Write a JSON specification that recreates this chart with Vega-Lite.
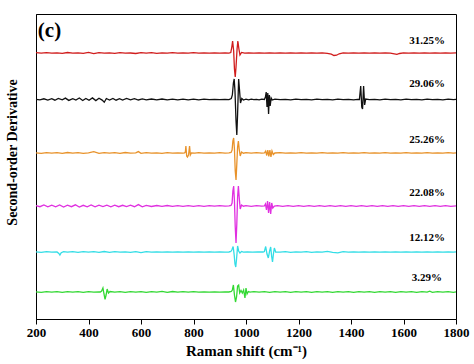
{
"$schema":"https://vega.github.io/schema/vega-lite/v6.json",
"width":420,"height":305,
"autosize":{"type":"none"},
"padding":{"left":36,"top":14,"right":18,"bottom":45},
"config":{"view":{"stroke":"black","strokeWidth":1},"font":"Liberation Serif"},
"layer":[
{"data":{"values":[
{"s":"31.25%","x":200,"y":266.3},{"s":"31.25%","x":220,"y":265.8},{"s":"31.25%","x":240,"y":266.4},{"s":"31.25%","x":260,"y":265.9},{"s":"31.25%","x":280,"y":266.2},{"s":"31.25%","x":300,"y":265.7},{"s":"31.25%","x":320,"y":266.5},{"s":"31.25%","x":340,"y":265.9},{"s":"31.25%","x":360,"y":266.1},{"s":"31.25%","x":380,"y":265.6},{"s":"31.25%","x":400,"y":266.6},{"s":"31.25%","x":420,"y":265.4},{"s":"31.25%","x":440,"y":266.3},{"s":"31.25%","x":460,"y":265.8},{"s":"31.25%","x":480,"y":266.2},{"s":"31.25%","x":500,"y":265.7},{"s":"31.25%","x":520,"y":266.4},{"s":"31.25%","x":540,"y":265.8},{"s":"31.25%","x":560,"y":266.0},{"s":"31.25%","x":580,"y":265.5},{"s":"31.25%","x":600,"y":266.4},{"s":"31.25%","x":620,"y":265.9},{"s":"31.25%","x":640,"y":266.3},{"s":"31.25%","x":660,"y":265.7},{"s":"31.25%","x":680,"y":266.1},{"s":"31.25%","x":700,"y":265.8},{"s":"31.25%","x":720,"y":266.4},{"s":"31.25%","x":740,"y":265.9},{"s":"31.25%","x":760,"y":266.2},{"s":"31.25%","x":780,"y":265.8},{"s":"31.25%","x":800,"y":266.3},{"s":"31.25%","x":820,"y":265.9},{"s":"31.25%","x":840,"y":266.1},{"s":"31.25%","x":860,"y":265.8},{"s":"31.25%","x":880,"y":266.2},{"s":"31.25%","x":900,"y":265.9},{"s":"31.25%","x":920,"y":266.1},{"s":"31.25%","x":935,"y":265.8},{"s":"31.25%","x":942,"y":266.5},{"s":"31.25%","x":946,"y":272},{"s":"31.25%","x":949,"y":278},{"s":"31.25%","x":953,"y":268},{"s":"31.25%","x":956,"y":250},{"s":"31.25%","x":959,"y":242},{"s":"31.25%","x":962,"y":252},{"s":"31.25%","x":966,"y":270},{"s":"31.25%","x":969,"y":278},{"s":"31.25%","x":973,"y":270},{"s":"31.25%","x":977,"y":264},{"s":"31.25%","x":983,"y":266.6},{"s":"31.25%","x":995,"y":265.8},{"s":"31.25%","x":1010,"y":266.2},{"s":"31.25%","x":1030,"y":265.9},{"s":"31.25%","x":1050,"y":266.1},{"s":"31.25%","x":1070,"y":265.8},{"s":"31.25%","x":1090,"y":266.2},{"s":"31.25%","x":1110,"y":265.9},{"s":"31.25%","x":1130,"y":266.1},{"s":"31.25%","x":1150,"y":265.8},{"s":"31.25%","x":1170,"y":266.2},{"s":"31.25%","x":1190,"y":265.9},{"s":"31.25%","x":1210,"y":266.1},{"s":"31.25%","x":1230,"y":265.8},{"s":"31.25%","x":1250,"y":266.2},{"s":"31.25%","x":1270,"y":265.9},{"s":"31.25%","x":1290,"y":266.1},{"s":"31.25%","x":1310,"y":265.6},{"s":"31.25%","x":1325,"y":264.8},{"s":"31.25%","x":1335,"y":263.5},{"s":"31.25%","x":1345,"y":263.8},{"s":"31.25%","x":1355,"y":265.2},{"s":"31.25%","x":1370,"y":266.2},{"s":"31.25%","x":1390,"y":265.9},{"s":"31.25%","x":1410,"y":266.1},{"s":"31.25%","x":1430,"y":265.8},{"s":"31.25%","x":1450,"y":266.2},{"s":"31.25%","x":1470,"y":265.9},{"s":"31.25%","x":1490,"y":266.1},{"s":"31.25%","x":1510,"y":265.8},{"s":"31.25%","x":1530,"y":266.2},{"s":"31.25%","x":1550,"y":265.9},{"s":"31.25%","x":1565,"y":265.2},{"s":"31.25%","x":1575,"y":264.6},{"s":"31.25%","x":1585,"y":265.5},{"s":"31.25%","x":1600,"y":266.2},{"s":"31.25%","x":1620,"y":265.9},{"s":"31.25%","x":1640,"y":266.1},{"s":"31.25%","x":1660,"y":265.8},{"s":"31.25%","x":1680,"y":266.2},{"s":"31.25%","x":1700,"y":265.9},{"s":"31.25%","x":1720,"y":266.1},{"s":"31.25%","x":1740,"y":265.8},{"s":"31.25%","x":1760,"y":266.2},{"s":"31.25%","x":1780,"y":265.9},{"s":"31.25%","x":1800,"y":266.1},

{"s":"29.06%","x":200,"y":219.7},{"s":"29.06%","x":215,"y":219.1},{"s":"29.06%","x":230,"y":220.2},{"s":"29.06%","x":245,"y":219.0},{"s":"29.06%","x":260,"y":220.4},{"s":"29.06%","x":272,"y":218.8},{"s":"29.06%","x":285,"y":220.6},{"s":"29.06%","x":300,"y":219.2},{"s":"29.06%","x":312,"y":220.9},{"s":"29.06%","x":325,"y":218.6},{"s":"29.06%","x":340,"y":220.3},{"s":"29.06%","x":352,"y":218.9},{"s":"29.06%","x":365,"y":221.0},{"s":"29.06%","x":378,"y":218.5},{"s":"29.06%","x":390,"y":220.6},{"s":"29.06%","x":402,"y":218.7},{"s":"29.06%","x":415,"y":221.1},{"s":"29.06%","x":428,"y":218.4},{"s":"29.06%","x":440,"y":220.7},{"s":"29.06%","x":452,"y":218.9},{"s":"29.06%","x":460,"y":216.8},{"s":"29.06%","x":468,"y":220.5},{"s":"29.06%","x":480,"y":219.0},{"s":"29.06%","x":493,"y":220.6},{"s":"29.06%","x":505,"y":218.8},{"s":"29.06%","x":518,"y":220.4},{"s":"29.06%","x":530,"y":219.0},{"s":"29.06%","x":545,"y":220.5},{"s":"29.06%","x":560,"y":219.1},{"s":"29.06%","x":575,"y":220.3},{"s":"29.06%","x":590,"y":219.0},{"s":"29.06%","x":605,"y":220.1},{"s":"29.06%","x":620,"y":219.2},{"s":"29.06%","x":640,"y":220.0},{"s":"29.06%","x":660,"y":219.2},{"s":"29.06%","x":680,"y":220.0},{"s":"29.06%","x":700,"y":219.2},{"s":"29.06%","x":720,"y":219.9},{"s":"29.06%","x":740,"y":219.2},{"s":"29.06%","x":760,"y":219.9},{"s":"29.06%","x":780,"y":219.2},{"s":"29.06%","x":800,"y":219.8},{"s":"29.06%","x":820,"y":219.2},{"s":"29.06%","x":840,"y":219.8},{"s":"29.06%","x":860,"y":219.3},{"s":"29.06%","x":880,"y":219.7},{"s":"29.06%","x":900,"y":219.3},{"s":"29.06%","x":920,"y":219.7},{"s":"29.06%","x":935,"y":219.4},{"s":"29.06%","x":944,"y":220.5},{"s":"29.06%","x":948,"y":224},{"s":"29.06%","x":952,"y":236},{"s":"29.06%","x":955,"y":240},{"s":"29.06%","x":958,"y":228},{"s":"29.06%","x":962,"y":198},{"s":"29.06%","x":965,"y":184},{"s":"29.06%","x":968,"y":205},{"s":"29.06%","x":972,"y":240},{"s":"29.06%","x":975,"y":230},{"s":"29.06%","x":979,"y":216},{"s":"29.06%","x":984,"y":220.5},{"s":"29.06%","x":990,"y":219.0},{"s":"29.06%","x":1000,"y":219.8},{"s":"29.06%","x":1010,"y":219.2},{"s":"29.06%","x":1020,"y":219.8},{"s":"29.06%","x":1030,"y":219.3},{"s":"29.06%","x":1040,"y":219.7},{"s":"29.06%","x":1050,"y":219.2},{"s":"29.06%","x":1060,"y":219.8},{"s":"29.06%","x":1070,"y":219.5},{"s":"29.06%","x":1074,"y":222},{"s":"29.06%","x":1077,"y":227},{"s":"29.06%","x":1080,"y":212},{"s":"29.06%","x":1083,"y":226},{"s":"29.06%","x":1086,"y":205},{"s":"29.06%","x":1089,"y":224},{"s":"29.06%","x":1092,"y":213},{"s":"29.06%","x":1096,"y":221},{"s":"29.06%","x":1100,"y":219},{"s":"29.06%","x":1110,"y":219.8},{"s":"29.06%","x":1130,"y":219.3},{"s":"29.06%","x":1150,"y":219.7},{"s":"29.06%","x":1170,"y":219.2},{"s":"29.06%","x":1190,"y":219.8},{"s":"29.06%","x":1210,"y":219.3},{"s":"29.06%","x":1230,"y":219.7},{"s":"29.06%","x":1250,"y":219.2},{"s":"29.06%","x":1270,"y":219.8},{"s":"29.06%","x":1290,"y":219.3},{"s":"29.06%","x":1310,"y":219.7},{"s":"29.06%","x":1330,"y":219.2},{"s":"29.06%","x":1350,"y":219.8},{"s":"29.06%","x":1370,"y":219.3},{"s":"29.06%","x":1390,"y":219.7},{"s":"29.06%","x":1410,"y":219.2},{"s":"29.06%","x":1425,"y":219.7},{"s":"29.06%","x":1432,"y":219.5},{"s":"29.06%","x":1437,"y":233},{"s":"29.06%","x":1441,"y":212},{"s":"29.06%","x":1444,"y":210},{"s":"29.06%","x":1448,"y":233},{"s":"29.06%","x":1452,"y":214},{"s":"29.06%","x":1456,"y":220},{"s":"29.06%","x":1470,"y":219.3},{"s":"29.06%","x":1490,"y":219.7},{"s":"29.06%","x":1510,"y":219.2},{"s":"29.06%","x":1530,"y":219.8},{"s":"29.06%","x":1550,"y":219.3},{"s":"29.06%","x":1570,"y":219.7},{"s":"29.06%","x":1590,"y":219.2},{"s":"29.06%","x":1610,"y":219.8},{"s":"29.06%","x":1630,"y":219.3},{"s":"29.06%","x":1650,"y":219.7},{"s":"29.06%","x":1670,"y":219.2},{"s":"29.06%","x":1690,"y":219.8},{"s":"29.06%","x":1710,"y":219.3},{"s":"29.06%","x":1730,"y":219.7},{"s":"29.06%","x":1750,"y":219.2},{"s":"29.06%","x":1770,"y":219.8},{"s":"29.06%","x":1790,"y":219.3},{"s":"29.06%","x":1800,"y":219.6},

{"s":"25.26%","x":200,"y":166.2},{"s":"25.26%","x":220,"y":165.7},{"s":"25.26%","x":240,"y":166.4},{"s":"25.26%","x":260,"y":165.8},{"s":"25.26%","x":280,"y":166.3},{"s":"25.26%","x":300,"y":165.6},{"s":"25.26%","x":320,"y":166.5},{"s":"25.26%","x":340,"y":165.9},{"s":"25.26%","x":360,"y":166.3},{"s":"25.26%","x":380,"y":165.7},{"s":"25.26%","x":400,"y":166.2},{"s":"25.26%","x":420,"y":167.3},{"s":"25.26%","x":440,"y":165.6},{"s":"25.26%","x":460,"y":166.3},{"s":"25.26%","x":480,"y":165.8},{"s":"25.26%","x":500,"y":166.4},{"s":"25.26%","x":520,"y":165.6},{"s":"25.26%","x":540,"y":166.5},{"s":"25.26%","x":560,"y":165.8},{"s":"25.26%","x":580,"y":166.2},{"s":"25.26%","x":590,"y":167.4},{"s":"25.26%","x":600,"y":165.7},{"s":"25.26%","x":620,"y":166.3},{"s":"25.26%","x":640,"y":165.8},{"s":"25.26%","x":660,"y":166.2},{"s":"25.26%","x":680,"y":165.7},{"s":"25.26%","x":700,"y":166.3},{"s":"25.26%","x":720,"y":165.8},{"s":"25.26%","x":740,"y":166.2},{"s":"25.26%","x":760,"y":165.9},{"s":"25.26%","x":766,"y":166.2},{"s":"25.26%","x":769,"y":167},{"s":"25.26%","x":771,"y":173},{"s":"25.26%","x":774,"y":163},{"s":"25.26%","x":777,"y":162},{"s":"25.26%","x":781,"y":164},{"s":"25.26%","x":785,"y":173},{"s":"25.26%","x":788,"y":164},{"s":"25.26%","x":792,"y":166},{"s":"25.26%","x":805,"y":165.8},{"s":"25.26%","x":820,"y":166.3},{"s":"25.26%","x":840,"y":165.8},{"s":"25.26%","x":860,"y":166.2},{"s":"25.26%","x":880,"y":165.8},{"s":"25.26%","x":900,"y":166.3},{"s":"25.26%","x":920,"y":165.8},{"s":"25.26%","x":935,"y":166.2},{"s":"25.26%","x":943,"y":166.5},{"s":"25.26%","x":947,"y":169},{"s":"25.26%","x":950,"y":178},{"s":"25.26%","x":953,"y":181},{"s":"25.26%","x":956,"y":170},{"s":"25.26%","x":959,"y":148},{"s":"25.26%","x":962,"y":139},{"s":"25.26%","x":965,"y":155},{"s":"25.26%","x":968,"y":172},{"s":"25.26%","x":971,"y":178},{"s":"25.26%","x":974,"y":170},{"s":"25.26%","x":978,"y":163},{"s":"25.26%","x":983,"y":167},{"s":"25.26%","x":990,"y":165.8},{"s":"25.26%","x":1000,"y":166.4},{"s":"25.26%","x":1020,"y":165.8},{"s":"25.26%","x":1040,"y":166.3},{"s":"25.26%","x":1060,"y":165.8},{"s":"25.26%","x":1070,"y":166},{"s":"25.26%","x":1075,"y":168},{"s":"25.26%","x":1079,"y":163.5},{"s":"25.26%","x":1083,"y":169},{"s":"25.26%","x":1087,"y":162.5},{"s":"25.26%","x":1091,"y":169},{"s":"25.26%","x":1095,"y":162},{"s":"25.26%","x":1099,"y":168},{"s":"25.26%","x":1104,"y":164.5},{"s":"25.26%","x":1110,"y":166},{"s":"25.26%","x":1130,"y":166.3},{"s":"25.26%","x":1150,"y":165.8},{"s":"25.26%","x":1170,"y":166.2},{"s":"25.26%","x":1190,"y":165.8},{"s":"25.26%","x":1210,"y":166.3},{"s":"25.26%","x":1230,"y":165.8},{"s":"25.26%","x":1250,"y":166.2},{"s":"25.26%","x":1270,"y":165.8},{"s":"25.26%","x":1290,"y":166.3},{"s":"25.26%","x":1310,"y":165.8},{"s":"25.26%","x":1330,"y":166.2},{"s":"25.26%","x":1350,"y":165.8},{"s":"25.26%","x":1370,"y":166.3},{"s":"25.26%","x":1390,"y":165.8},{"s":"25.26%","x":1410,"y":166.2},{"s":"25.26%","x":1430,"y":165.8},{"s":"25.26%","x":1450,"y":166.3},{"s":"25.26%","x":1470,"y":165.8},{"s":"25.26%","x":1490,"y":166.2},{"s":"25.26%","x":1510,"y":165.8},{"s":"25.26%","x":1530,"y":166.3},{"s":"25.26%","x":1550,"y":165.8},{"s":"25.26%","x":1570,"y":166.2},{"s":"25.26%","x":1590,"y":165.8},{"s":"25.26%","x":1610,"y":166.3},{"s":"25.26%","x":1630,"y":165.8},{"s":"25.26%","x":1650,"y":166.2},{"s":"25.26%","x":1670,"y":165.8},{"s":"25.26%","x":1690,"y":166.3},{"s":"25.26%","x":1710,"y":165.8},{"s":"25.26%","x":1730,"y":166.2},{"s":"25.26%","x":1750,"y":165.8},{"s":"25.26%","x":1770,"y":166.3},{"s":"25.26%","x":1790,"y":165.8},{"s":"25.26%","x":1800,"y":166.1},

{"s":"22.08%","x":200,"y":113.4},{"s":"22.08%","x":215,"y":112.3},{"s":"22.08%","x":230,"y":114.0},{"s":"22.08%","x":245,"y":112.1},{"s":"22.08%","x":260,"y":113.9},{"s":"22.08%","x":275,"y":112.2},{"s":"22.08%","x":290,"y":114.1},{"s":"22.08%","x":305,"y":112.0},{"s":"22.08%","x":320,"y":113.8},{"s":"22.08%","x":335,"y":112.3},{"s":"22.08%","x":350,"y":114.2},{"s":"22.08%","x":365,"y":111.9},{"s":"22.08%","x":380,"y":113.7},{"s":"22.08%","x":395,"y":112.2},{"s":"22.08%","x":410,"y":114.0},{"s":"22.08%","x":425,"y":112.1},{"s":"22.08%","x":440,"y":113.9},{"s":"22.08%","x":455,"y":112.4},{"s":"22.08%","x":470,"y":113.8},{"s":"22.08%","x":485,"y":112.2},{"s":"22.08%","x":500,"y":113.9},{"s":"22.08%","x":515,"y":112.3},{"s":"22.08%","x":530,"y":113.7},{"s":"22.08%","x":545,"y":112.4},{"s":"22.08%","x":560,"y":113.8},{"s":"22.08%","x":575,"y":112.3},{"s":"22.08%","x":590,"y":114.4},{"s":"22.08%","x":605,"y":112.1},{"s":"22.08%","x":620,"y":113.6},{"s":"22.08%","x":640,"y":112.5},{"s":"22.08%","x":660,"y":113.5},{"s":"22.08%","x":680,"y":112.6},{"s":"22.08%","x":700,"y":113.5},{"s":"22.08%","x":720,"y":112.6},{"s":"22.08%","x":740,"y":113.4},{"s":"22.08%","x":760,"y":112.7},{"s":"22.08%","x":780,"y":113.4},{"s":"22.08%","x":800,"y":112.7},{"s":"22.08%","x":820,"y":113.4},{"s":"22.08%","x":840,"y":112.7},{"s":"22.08%","x":860,"y":113.3},{"s":"22.08%","x":880,"y":112.8},{"s":"22.08%","x":900,"y":113.3},{"s":"22.08%","x":920,"y":112.8},{"s":"22.08%","x":935,"y":113.2},{"s":"22.08%","x":943,"y":113.5},{"s":"22.08%","x":947,"y":116},{"s":"22.08%","x":950,"y":128},{"s":"22.08%","x":953,"y":133},{"s":"22.08%","x":956,"y":118},{"s":"22.08%","x":959,"y":92},{"s":"22.08%","x":962,"y":76},{"s":"22.08%","x":965,"y":95},{"s":"22.08%","x":968,"y":122},{"s":"22.08%","x":971,"y":133},{"s":"22.08%","x":974,"y":122},{"s":"22.08%","x":978,"y":110},{"s":"22.08%","x":983,"y":114},{"s":"22.08%","x":990,"y":112.8},{"s":"22.08%","x":1000,"y":113.4},{"s":"22.08%","x":1020,"y":112.7},{"s":"22.08%","x":1040,"y":113.3},{"s":"22.08%","x":1060,"y":112.8},{"s":"22.08%","x":1070,"y":113},{"s":"22.08%","x":1074,"y":115},{"s":"22.08%","x":1078,"y":109},{"s":"22.08%","x":1082,"y":118},{"s":"22.08%","x":1086,"y":106},{"s":"22.08%","x":1090,"y":117},{"s":"22.08%","x":1094,"y":105},{"s":"22.08%","x":1098,"y":116},{"s":"22.08%","x":1102,"y":111},{"s":"22.08%","x":1108,"y":113},{"s":"22.08%","x":1120,"y":113.4},{"s":"22.08%","x":1140,"y":112.7},{"s":"22.08%","x":1160,"y":113.4},{"s":"22.08%","x":1180,"y":112.7},{"s":"22.08%","x":1200,"y":113.4},{"s":"22.08%","x":1220,"y":112.7},{"s":"22.08%","x":1240,"y":113.4},{"s":"22.08%","x":1260,"y":112.7},{"s":"22.08%","x":1280,"y":113.4},{"s":"22.08%","x":1300,"y":112.7},{"s":"22.08%","x":1320,"y":113.4},{"s":"22.08%","x":1340,"y":112.7},{"s":"22.08%","x":1360,"y":113.4},{"s":"22.08%","x":1380,"y":112.7},{"s":"22.08%","x":1400,"y":113.4},{"s":"22.08%","x":1420,"y":112.7},{"s":"22.08%","x":1440,"y":113.4},{"s":"22.08%","x":1460,"y":112.7},{"s":"22.08%","x":1480,"y":113.4},{"s":"22.08%","x":1500,"y":112.7},{"s":"22.08%","x":1520,"y":113.4},{"s":"22.08%","x":1540,"y":112.7},{"s":"22.08%","x":1560,"y":113.4},{"s":"22.08%","x":1580,"y":112.7},{"s":"22.08%","x":1600,"y":113.4},{"s":"22.08%","x":1620,"y":112.7},{"s":"22.08%","x":1640,"y":113.4},{"s":"22.08%","x":1660,"y":112.7},{"s":"22.08%","x":1680,"y":113.4},{"s":"22.08%","x":1700,"y":112.7},{"s":"22.08%","x":1720,"y":113.4},{"s":"22.08%","x":1740,"y":112.7},{"s":"22.08%","x":1760,"y":113.4},{"s":"22.08%","x":1780,"y":112.7},{"s":"22.08%","x":1800,"y":113.2},

{"s":"12.12%","x":200,"y":67.2},{"s":"12.12%","x":220,"y":66.7},{"s":"12.12%","x":240,"y":67.4},{"s":"12.12%","x":260,"y":66.8},{"s":"12.12%","x":280,"y":67.1},{"s":"12.12%","x":287,"y":65.5},{"s":"12.12%","x":291,"y":64},{"s":"12.12%","x":296,"y":66.3},{"s":"12.12%","x":305,"y":67.4},{"s":"12.12%","x":320,"y":66.8},{"s":"12.12%","x":340,"y":67.3},{"s":"12.12%","x":360,"y":66.7},{"s":"12.12%","x":380,"y":67.4},{"s":"12.12%","x":400,"y":66.8},{"s":"12.12%","x":420,"y":67.3},{"s":"12.12%","x":440,"y":66.6},{"s":"12.12%","x":460,"y":67.5},{"s":"12.12%","x":480,"y":66.7},{"s":"12.12%","x":500,"y":67.3},{"s":"12.12%","x":520,"y":66.8},{"s":"12.12%","x":540,"y":67.2},{"s":"12.12%","x":560,"y":66.7},{"s":"12.12%","x":580,"y":67.3},{"s":"12.12%","x":600,"y":66.3},{"s":"12.12%","x":620,"y":67.3},{"s":"12.12%","x":640,"y":66.8},{"s":"12.12%","x":660,"y":67.2},{"s":"12.12%","x":680,"y":66.8},{"s":"12.12%","x":700,"y":67.2},{"s":"12.12%","x":720,"y":66.8},{"s":"12.12%","x":740,"y":67.2},{"s":"12.12%","x":760,"y":66.8},{"s":"12.12%","x":780,"y":67.2},{"s":"12.12%","x":800,"y":66.8},{"s":"12.12%","x":820,"y":67.2},{"s":"12.12%","x":840,"y":66.8},{"s":"12.12%","x":860,"y":67.2},{"s":"12.12%","x":880,"y":66.8},{"s":"12.12%","x":900,"y":67.2},{"s":"12.12%","x":920,"y":66.8},{"s":"12.12%","x":935,"y":67},{"s":"12.12%","x":942,"y":67.5},{"s":"12.12%","x":946,"y":69},{"s":"12.12%","x":951,"y":72.5},{"s":"12.12%","x":955,"y":64},{"s":"12.12%","x":958,"y":55},{"s":"12.12%","x":961,"y":52},{"s":"12.12%","x":964,"y":60},{"s":"12.12%","x":968,"y":73},{"s":"12.12%","x":972,"y":68},{"s":"12.12%","x":977,"y":66},{"s":"12.12%","x":983,"y":67.5},{"s":"12.12%","x":990,"y":66.8},{"s":"12.12%","x":1005,"y":67.2},{"s":"12.12%","x":1025,"y":66.8},{"s":"12.12%","x":1045,"y":67.2},{"s":"12.12%","x":1065,"y":67},{"s":"12.12%","x":1070,"y":67.5},{"s":"12.12%","x":1075,"y":72.5},{"s":"12.12%","x":1080,"y":65},{"s":"12.12%","x":1085,"y":61},{"s":"12.12%","x":1090,"y":68},{"s":"12.12%","x":1094,"y":72},{"s":"12.12%","x":1098,"y":62},{"s":"12.12%","x":1101,"y":57},{"s":"12.12%","x":1105,"y":66},{"s":"12.12%","x":1108,"y":71},{"s":"12.12%","x":1113,"y":67},{"s":"12.12%","x":1130,"y":66.8},{"s":"12.12%","x":1150,"y":67.3},{"s":"12.12%","x":1170,"y":66.7},{"s":"12.12%","x":1190,"y":67.2},{"s":"12.12%","x":1210,"y":66.8},{"s":"12.12%","x":1230,"y":67.3},{"s":"12.12%","x":1250,"y":66.7},{"s":"12.12%","x":1270,"y":67.2},{"s":"12.12%","x":1290,"y":66.8},{"s":"12.12%","x":1310,"y":67.6},{"s":"12.12%","x":1330,"y":66.7},{"s":"12.12%","x":1350,"y":66.2},{"s":"12.12%","x":1370,"y":67.3},{"s":"12.12%","x":1390,"y":66.8},{"s":"12.12%","x":1410,"y":67.2},{"s":"12.12%","x":1430,"y":66.8},{"s":"12.12%","x":1450,"y":67.2},{"s":"12.12%","x":1470,"y":66.8},{"s":"12.12%","x":1490,"y":67.2},{"s":"12.12%","x":1510,"y":66.8},{"s":"12.12%","x":1530,"y":67.2},{"s":"12.12%","x":1550,"y":66.8},{"s":"12.12%","x":1570,"y":67.2},{"s":"12.12%","x":1590,"y":66.8},{"s":"12.12%","x":1610,"y":67.2},{"s":"12.12%","x":1630,"y":66.8},{"s":"12.12%","x":1650,"y":67.2},{"s":"12.12%","x":1670,"y":66.8},{"s":"12.12%","x":1690,"y":67.2},{"s":"12.12%","x":1710,"y":66.8},{"s":"12.12%","x":1730,"y":67.2},{"s":"12.12%","x":1750,"y":66.8},{"s":"12.12%","x":1770,"y":67.2},{"s":"12.12%","x":1790,"y":66.8},{"s":"12.12%","x":1800,"y":67.1},

{"s":"3.29%","x":200,"y":27.2},{"s":"3.29%","x":220,"y":26.7},{"s":"3.29%","x":240,"y":27.4},{"s":"3.29%","x":260,"y":26.8},{"s":"3.29%","x":280,"y":27.3},{"s":"3.29%","x":300,"y":26.6},{"s":"3.29%","x":320,"y":27.4},{"s":"3.29%","x":340,"y":26.8},{"s":"3.29%","x":360,"y":27.3},{"s":"3.29%","x":380,"y":26.7},{"s":"3.29%","x":400,"y":27.4},{"s":"3.29%","x":420,"y":26.8},{"s":"3.29%","x":440,"y":27.2},{"s":"3.29%","x":445,"y":27},{"s":"3.29%","x":450,"y":28},{"s":"3.29%","x":455,"y":31},{"s":"3.29%","x":459,"y":25},{"s":"3.29%","x":463,"y":19.7},{"s":"3.29%","x":467,"y":24},{"s":"3.29%","x":471,"y":30},{"s":"3.29%","x":476,"y":26},{"s":"3.29%","x":482,"y":27.5},{"s":"3.29%","x":500,"y":26.8},{"s":"3.29%","x":520,"y":27.3},{"s":"3.29%","x":540,"y":26.7},{"s":"3.29%","x":560,"y":27.3},{"s":"3.29%","x":580,"y":26.8},{"s":"3.29%","x":600,"y":27.3},{"s":"3.29%","x":620,"y":26.7},{"s":"3.29%","x":640,"y":27.3},{"s":"3.29%","x":660,"y":26.8},{"s":"3.29%","x":680,"y":27.6},{"s":"3.29%","x":700,"y":26.7},{"s":"3.29%","x":720,"y":27.5},{"s":"3.29%","x":740,"y":26.8},{"s":"3.29%","x":760,"y":27.3},{"s":"3.29%","x":780,"y":26.8},{"s":"3.29%","x":800,"y":27.3},{"s":"3.29%","x":820,"y":26.8},{"s":"3.29%","x":840,"y":27.2},{"s":"3.29%","x":860,"y":26.8},{"s":"3.29%","x":880,"y":27.2},{"s":"3.29%","x":900,"y":26.8},{"s":"3.29%","x":920,"y":27.2},{"s":"3.29%","x":935,"y":27},{"s":"3.29%","x":944,"y":27.5},{"s":"3.29%","x":948,"y":29},{"s":"3.29%","x":952,"y":34},{"s":"3.29%","x":956,"y":24},{"s":"3.29%","x":960,"y":17},{"s":"3.29%","x":964,"y":22},{"s":"3.29%","x":968,"y":33},{"s":"3.29%","x":972,"y":34},{"s":"3.29%","x":976,"y":26},{"s":"3.29%","x":981,"y":28.5},{"s":"3.29%","x":986,"y":26},{"s":"3.29%","x":991,"y":29},{"s":"3.29%","x":996,"y":21},{"s":"3.29%","x":1000,"y":31},{"s":"3.29%","x":1004,"y":25},{"s":"3.29%","x":1009,"y":27.5},{"s":"3.29%","x":1015,"y":26.8},{"s":"3.29%","x":1030,"y":27.3},{"s":"3.29%","x":1050,"y":26.8},{"s":"3.29%","x":1070,"y":27.3},{"s":"3.29%","x":1090,"y":26.7},{"s":"3.29%","x":1110,"y":27.3},{"s":"3.29%","x":1130,"y":26.8},{"s":"3.29%","x":1150,"y":27.3},{"s":"3.29%","x":1170,"y":26.7},{"s":"3.29%","x":1190,"y":27.3},{"s":"3.29%","x":1210,"y":26.8},{"s":"3.29%","x":1230,"y":27.3},{"s":"3.29%","x":1250,"y":26.7},{"s":"3.29%","x":1270,"y":27.3},{"s":"3.29%","x":1290,"y":26.8},{"s":"3.29%","x":1310,"y":27.3},{"s":"3.29%","x":1330,"y":26.7},{"s":"3.29%","x":1350,"y":27.3},{"s":"3.29%","x":1370,"y":26.8},{"s":"3.29%","x":1390,"y":27.3},{"s":"3.29%","x":1410,"y":26.7},{"s":"3.29%","x":1430,"y":27.3},{"s":"3.29%","x":1450,"y":26.8},{"s":"3.29%","x":1470,"y":27.3},{"s":"3.29%","x":1490,"y":26.7},{"s":"3.29%","x":1510,"y":27.3},{"s":"3.29%","x":1530,"y":26.8},{"s":"3.29%","x":1550,"y":27.3},{"s":"3.29%","x":1570,"y":26.7},{"s":"3.29%","x":1590,"y":27.3},{"s":"3.29%","x":1610,"y":26.8},{"s":"3.29%","x":1630,"y":27.3},{"s":"3.29%","x":1650,"y":26.7},{"s":"3.29%","x":1670,"y":27.3},{"s":"3.29%","x":1690,"y":26.8},{"s":"3.29%","x":1700,"y":27.8},{"s":"3.29%","x":1710,"y":26.7},{"s":"3.29%","x":1730,"y":27.3},{"s":"3.29%","x":1750,"y":26.8},{"s":"3.29%","x":1770,"y":27.3},{"s":"3.29%","x":1790,"y":26.7},{"s":"3.29%","x":1800,"y":27.1}
]},
"mark":{"type":"line","strokeWidth":1.3,"interpolate":"linear"},
"encoding":{
"x":{"field":"x","type":"quantitative","scale":{"domain":[200,1800],"nice":false,"zero":false},
 "axis":{"title":"Raman shift (cm⁻¹)","values":[200,300,400,500,600,700,800,900,1000,1100,1200,1300,1400,1500,1600,1700,1800],
  "labelExpr":"datum.value % 200 === 0 ? datum.label : ''","format":"d","labelFlush":false,"labelOverlap":false,
  "labelFont":"Liberation Serif","labelFontWeight":"bold","labelFontSize":13,"labelColor":"black","labelPadding":2,
  "tickSize":{"condition":{"test":"datum.value % 200 === 0","value":5},"value":3},"tickColor":"black","domainColor":"black","grid":false,
  "titleFont":"Liberation Serif","titleFontWeight":"bold","titleFontSize":15,"titleColor":"black","titlePadding":4}},
"y":{"field":"y","type":"quantitative","scale":{"domain":[0,305],"nice":false,"zero":false},
 "axis":{"title":"Second-order Derivative","ticks":false,"labels":false,"grid":false,"domainColor":"black",
  "titleFont":"Liberation Serif","titleFontWeight":"bold","titleFontSize":14,"titleColor":"black","titleX":-24,"titleY":138,"titleBaseline":"middle","titleAlign":"center","titleAngle":-90}},
"color":{"field":"s","type":"nominal","legend":null,"scale":{"domain":["31.25%","29.06%","25.26%","22.08%","12.12%","3.29%"],"range":["#d01c1c","#111111","#e8922a","#e030e0","#33dde6","#33d833"]}},
"detail":{"field":"s"}
}},
{"data":{"values":[{"t":"31.25%","x":1758,"y":278},{"t":"29.06%","x":1758,"y":235},{"t":"25.26%","x":1758,"y":179},{"t":"22.08%","x":1758,"y":126},{"t":"12.12%","x":1758,"y":81},{"t":"3.29%","x":1747,"y":41}]},
"mark":{"type":"text","align":"right","baseline":"middle","font":"Liberation Serif","fontWeight":"bold","fontSize":11,"color":"black"},
"encoding":{"x":{"field":"x","type":"quantitative"},"y":{"field":"y","type":"quantitative"},"text":{"field":"t"}}},
{"data":{"values":[{"t":"(c)","x":207,"y":288}]},
"mark":{"type":"text","align":"left","baseline":"middle","font":"Liberation Serif","fontWeight":"bold","fontSize":21,"color":"black"},
"encoding":{"x":{"field":"x","type":"quantitative"},"y":{"field":"y","type":"quantitative"},"text":{"field":"t"}}}
]
}
